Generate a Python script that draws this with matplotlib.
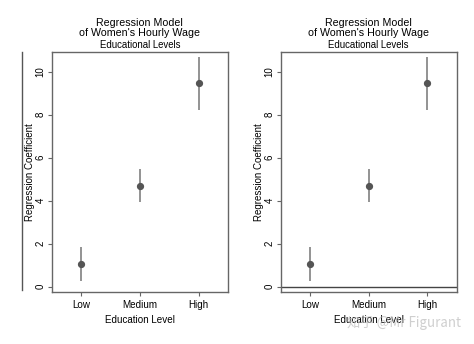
import matplotlib
matplotlib.use("Agg")
import matplotlib.pyplot as plt
from matplotlib.lines import Line2D

categories = ["Low", "Medium", "High"]
coef = [1.04, 4.70, 9.49]
ci_low = [0.28, 3.93, 8.22]
ci_high = [1.83, 5.46, 10.68]
yticks = [0, 2, 4, 6, 8, 10]

plt.rcParams['font.family'] = ['Liberation Sans', 'DejaVu Sans']

W, H = 474, 344
fig = plt.figure(figsize=(W / 100, H / 100), dpi=100)

def make_panel(left_px, right_px, zero_line, ylab_px):
    width = right_px - left_px
    ax = fig.add_axes([left_px / W, 1 - 292 / H, width / W, (292 - 52.3) / H])
    x = list(range(len(categories)))
    yerr = [[c - l for c, l in zip(coef, ci_low)], [h - c for c, h in zip(coef, ci_high)]]
    ax.errorbar(x, coef, yerr=yerr, fmt='o', color='#555555', ecolor='#8a8a8a',
                elinewidth=1.3, capsize=0, markersize=4.2, zorder=3)
    if zero_line:
        ax.axhline(0, color='#444444', lw=1.0, zorder=2)
    ax.set_xlim(-0.5, 2.5)
    ax.set_ylim(-0.25, 10.9)
    ax.set_xticks(x)
    ax.set_xticklabels(categories, fontsize=7.1)
    ax.set_yticks(yticks)
    ax.set_yticklabels([str(t) for t in yticks], fontsize=7.0, rotation=90, va='center')
    ax.tick_params(axis='both', direction='out', length=3, width=0.8, color='#666666')
    ax.tick_params(axis='y', pad=1.5)
    ax.tick_params(axis='x', pad=3)
    for s in ax.spines.values():
        s.set_color('#666666')
        s.set_linewidth(1.0)
    ax.set_xlabel("Education Level", fontsize=7.1)
    ax.xaxis.set_label_coords(0.5, -(320 - 292) / (292 - 52.3))
    ax.xaxis.label.set_va('center')
    ax.set_ylabel("Regression Coefficient", fontsize=7.0)
    ax.yaxis.set_label_coords((ylab_px - left_px) / width, 0.5)
    ax.yaxis.label.set_va('center')
    cx = (left_px + right_px) / 2 / W
    fig.text(cx, 1 - 23.3 / H, "Regression Model", ha='center', va='center', fontsize=7.7)
    fig.text(cx, 1 - 33.5 / H, "of Women's Hourly Wage", ha='center', va='center', fontsize=7.7)
    fig.text(cx, 1 - 45 / H, "Educational Levels", ha='center', va='center', fontsize=6.9)
    return ax

ax1 = make_panel(51.7, 228, False, 29.8)
ax2 = make_panel(280.7, 456.5, True, 259.5)

fig.add_artist(Line2D([22.3 / W, 22.3 / W], [1 - 52 / H, 1 - 290 / H], color='#555555', lw=1.0))

fig.text(347 / W, 1 - 323 / H, "知乎 @Mr Figurant", fontsize=9.6, color='#bbbbbb', alpha=0.7,
         ha='left', va='center', family=['Noto Sans CJK SC', 'DejaVu Sans'])

fig.savefig("out.png", dpi=100)
